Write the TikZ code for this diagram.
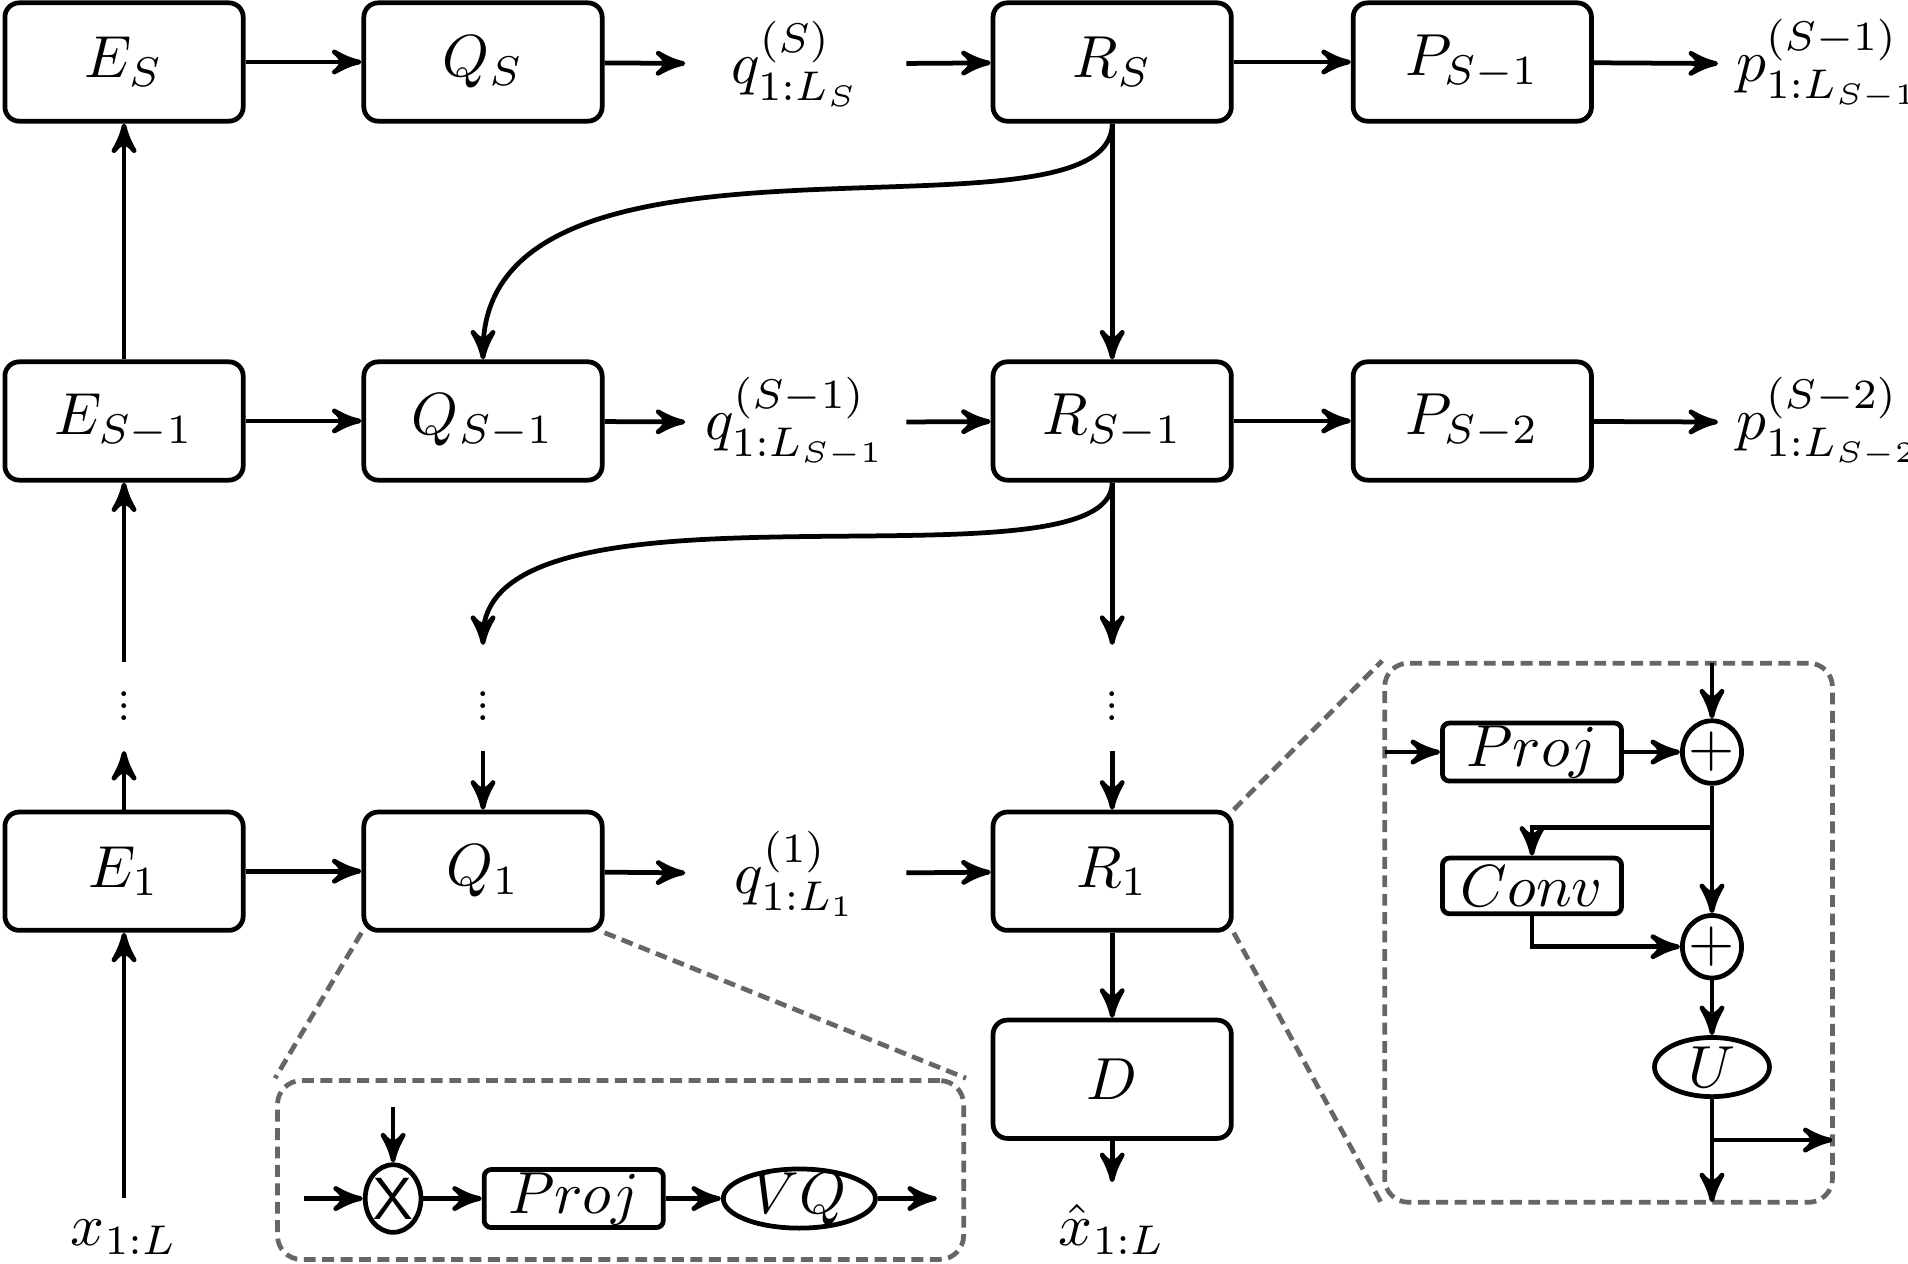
\documentclass[tikz,border=0pt]{standalone}
\usetikzlibrary{arrows}
\usetikzlibrary{shapes.geometric}
\newcommand{\vdotsmall}{\vbox{\baselineskip=2pt\lineskiplimit=0pt\hbox{.}\hbox{.}\hbox{.}}}

\begin{document}
\begin{tikzpicture} [>=stealth', thick,
  blk/.style={draw, rounded corners=2.4pt, minimum width=1.41cm, minimum height=0.70cm},
  lbl/.style={minimum width=1.28cm, inner sep=0pt},
  dotsnode/.style={minimum height=0.5cm, inner sep=0pt},
  sbox/.style={draw, rounded corners=1.2pt, minimum width=1.06cm, minimum height=0.33cm, inner sep=0.5pt},
  op/.style={draw, ellipse, inner sep=-1pt},
  zoombox/.style={draw=black!60, dash pattern=on 2pt off 1.1pt, rounded corners=4pt, inner sep=0pt},
  zoomline/.style={draw=black!60, dash pattern=on 2pt off 1.1pt}]
\useasboundingbox (0,0) rectangle (11.29,-7.474);
% level S
\node[blk] (ES) at (0.734,-0.367) {$E_S$};
\node[blk] (QS) at (2.858,-0.367) {$Q_S$};
\node[lbl] (qS) at (4.709,-0.38) {$q^{(S)}_{1:L_S}$};
\node[blk] (RS) at (6.581,-0.367) {$R_S$};
\node[blk] (PS) at (8.712,-0.367) {$P_{S-1}$};
\node[lbl] (pS) at (10.82,-0.38) {$p^{(S-1)}_{1:L_{S-1}}$};
% level S-1
\node[blk] (ES1) at (0.734,-2.491) {$E_{S-1}$};
\node[blk] (QS1) at (2.858,-2.491) {$Q_{S-1}$};
\node[lbl] (qS1) at (4.709,-2.50) {$q^{(S-1)}_{1:L_{S-1}}$};
\node[blk] (RS1) at (6.581,-2.491) {$R_{S-1}$};
\node[blk] (PS1) at (8.712,-2.491) {$P_{S-2}$};
\node[lbl] (pS1) at (10.82,-2.50) {$p^{(S-2)}_{1:L_{S-2}}$};
% dots
\node[dotsnode] (Edots) at (0.734,-4.18) {\scriptsize\vdotsmall};
\node[dotsnode] (Qdots) at (2.858,-4.18) {\scriptsize\vdotsmall};
\node[dotsnode] (Rdots) at (6.581,-4.18) {\scriptsize\vdotsmall};
% level 1
\node[blk] (E1) at (0.734,-5.155) {$E_1$};
\node[blk] (Q1) at (2.858,-5.155) {$Q_1$};
\node[lbl] (q1) at (4.709,-5.17) {$q^{(1)}_{1:L_1}$};
\node[blk] (R1) at (6.581,-5.155) {$R_1$};
\node[blk] (Dec) at (6.581,-6.386) {$D$};
\node[anchor=base] (xin) at (0.734,-7.37) {$x_{1:L}$};
\node[anchor=base] (xout) at (6.581,-7.37) {$\hat{x}_{1:L}$};

\foreach \a/\b in {ES/QS, QS/qS, qS/RS, RS/PS, PS/pS, ES1/QS1, QS1/qS1, qS1/RS1, RS1/PS1, PS1/pS1,
  E1/Q1, Q1/q1, q1/R1, xin/E1, E1/Edots, Edots/ES1, ES1/ES, RS/RS1, Qdots/Q1, Rdots/R1, R1/Dec, Dec/xout} {
 \draw[->] (\a) -- (\b);
}
\draw[->] (RS.south) .. controls +(0,-0.79) and +(0,1.58) .. (QS1.north);
\draw[->, shorten >=0.1cm] (RS1.south) .. controls +(0,-0.68) and +(0,1.19) .. (Qdots.north);
\draw[->, shorten >=0.1cm] (RS1) -- (Rdots);

% quantizer detail
\node[zoombox, minimum width=4.06cm, minimum height=1.058cm] (vqzoom) at (3.672,-6.923) {};
\draw[zoomline] (Q1.south west) -- (vqzoom.north west);
\draw[zoomline] (Q1.south east) -- (vqzoom.north east);
\node[op, minimum width=0.33cm, minimum height=0.40cm] (mul) at (2.326,-7.092) {\textsf{X}};
\node[sbox] (vqproj) at (3.395,-7.092) {$Proj$};
\node[op, minimum width=0.90cm, minimum height=0.35cm] (vq) at (4.730,-7.092) {$VQ$};
\coordinate (vqin) at (1.80,-7.092);
\coordinate (vqtop) at (2.326,-6.552);
\coordinate (vqout) at (5.544,-7.092);
\foreach \a/\b in {vqin/mul, vqtop/mul, mul/vqproj, vqproj/vq, vq/vqout} {
 \draw[->] (\a) -- (\b);
}

% refiner detail
\node[zoombox, minimum width=2.65cm, minimum height=3.19cm] (rzoom) at (9.518,-5.519) {};
\draw[zoomline] (R1.north east) -- (rzoom.north west);
\draw[zoomline] (R1.south east) -- (rzoom.south west);
\node[sbox] (rproj) at (9.065,-4.45) {$Proj$};
\node[op, minimum width=0.35cm, minimum height=0.37cm] (plusA) at (10.13,-4.45) {$+$};
\node[sbox] (conv) at (9.065,-5.242) {$Conv$};
\node[op, minimum width=0.35cm, minimum height=0.37cm] (plusB) at (10.13,-5.602) {$+$};
\node[op, minimum width=0.68cm, minimum height=0.35cm] (up) at (10.13,-6.314) {$U$};
\coordinate (rin) at (8.194,-4.45);
\coordinate (rtop) at (10.13,-3.924);
\coordinate (rsplit) at (10.13,-4.896);
\coordinate (rbranch) at (10.13,-6.746);
\coordinate (rright) at (10.843,-6.746);
\coordinate (rbot) at (10.13,-7.114);
\foreach \a/\b in {rin/rproj, rproj/plusA, rtop/plusA, plusA/plusB, plusB/up, up/rbot, rbranch/rright} {
 \draw[->] (\a) -- (\b);
}
\draw[->] (rsplit) -| (conv.north);
\draw[->] (conv.south) |- (plusB);
\end{tikzpicture}
\end{document}
